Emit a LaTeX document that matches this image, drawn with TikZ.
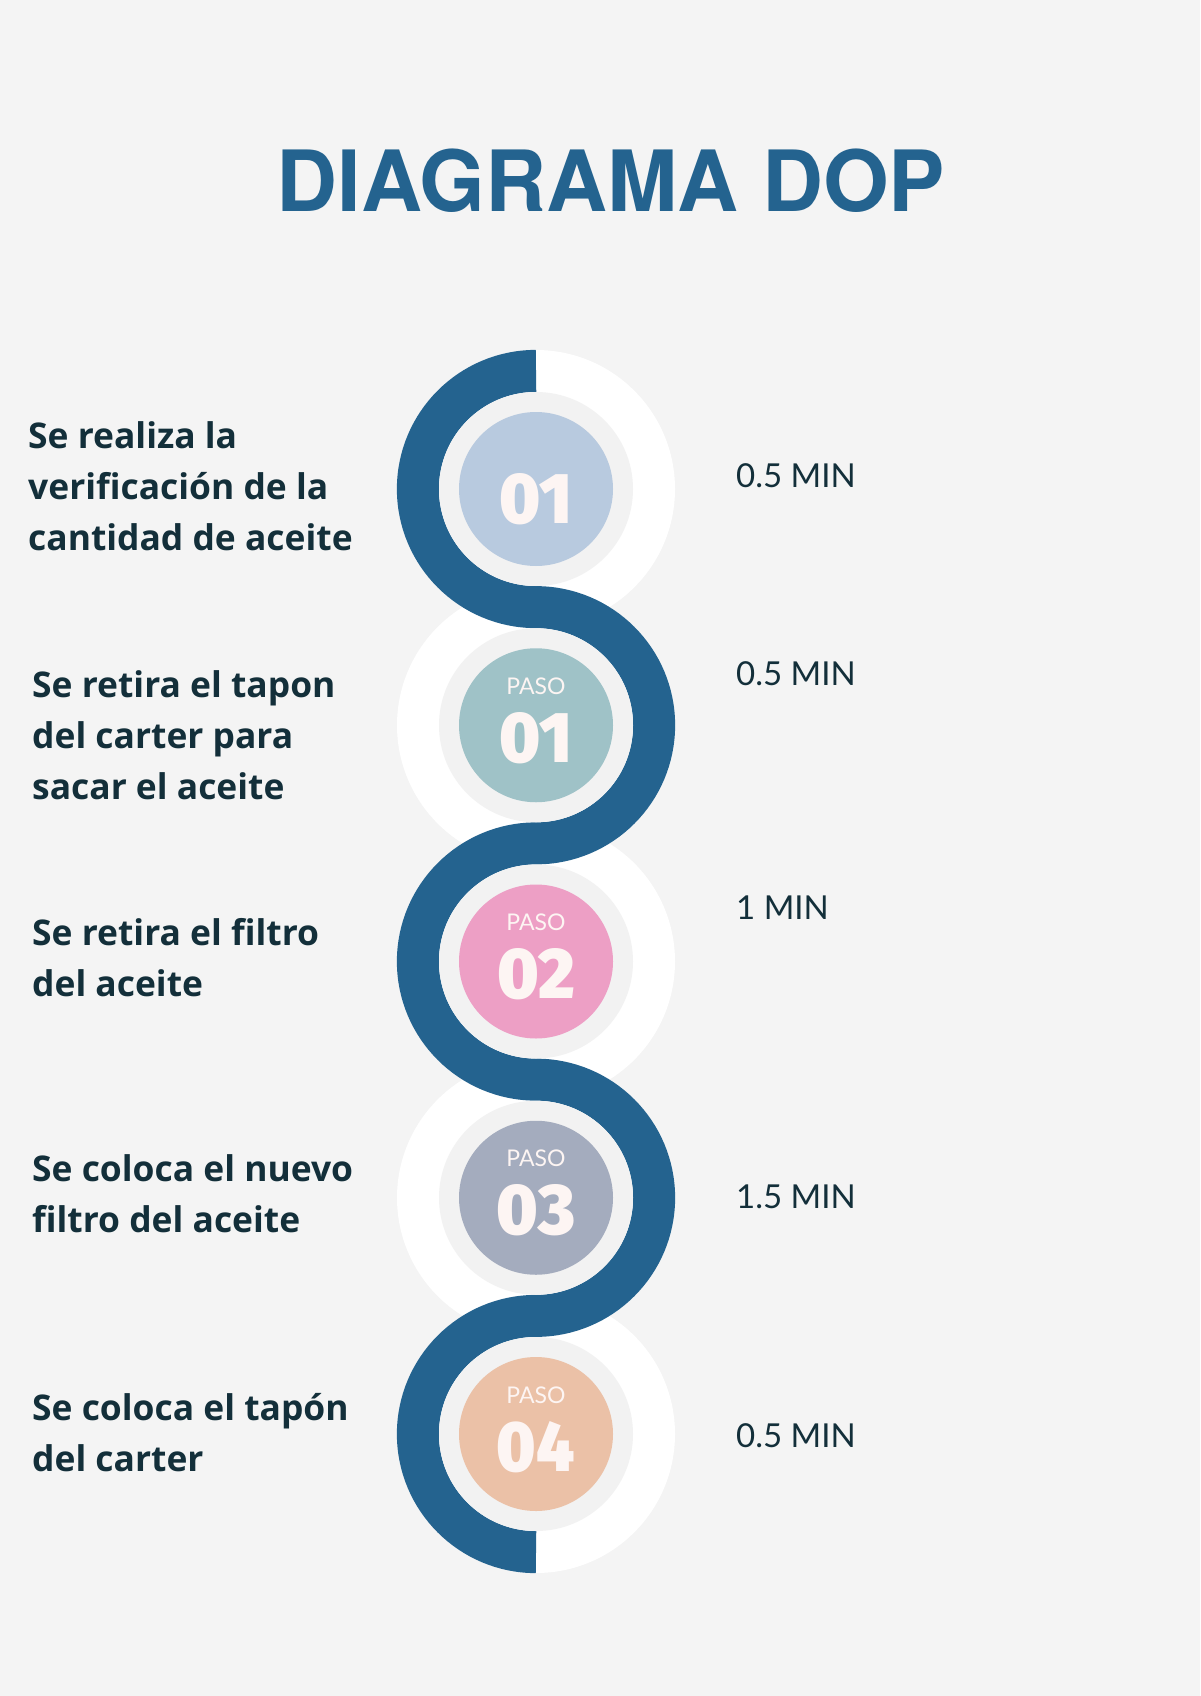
\documentclass[tikz,border=0pt]{standalone}
\usepackage{fontspec}
\setmainfont{Lato}
\newfontfamily\titlefont{TeX Gyre Heros}
\newfontfamily\stepfont{Open Sans}[UprightFont=* Bold]
\IfFontExistsTF{Fira Sans Black}{\newfontfamily\numfont{Fira Sans Black}}{%
 \IfFontExistsTF{Fira Sans Bold}{\newfontfamily\numfont{Fira Sans Bold}[FakeBold=2.5]}{\newfontfamily\numfont{Fira Sans}[FakeBold=4]}}
\definecolor{bg}{HTML}{F4F4F4}
\definecolor{ringgray}{HTML}{F2F2F2}
\definecolor{dopblue}{HTML}{24638F}
\definecolor{txt}{HTML}{132F3A}
\definecolor{numc}{HTML}{FDF5F3}
\definecolor{cA}{HTML}{B8CADF}
\definecolor{cB}{HTML}{9FC2C7}
\definecolor{cC}{HTML}{ED9FC5}
\definecolor{cD}{HTML}{A4ACBE}
\definecolor{cE}{HTML}{EBC1A7}
\tikzset{
  halo/.style={circle, fill=white, minimum size=278pt, inner sep=0pt},
  ring/.style={circle, fill=ringgray, minimum size=194pt, inner sep=0pt},
  disc/.style={circle, minimum size=154pt, inner sep=0pt},
  numtxt/.style={anchor=base, inner sep=0pt, text=numc},
  pasotxt/.style={anchor=base, inner sep=0pt, text=numc, font=\fontsize{23}{23}\selectfont},
  steptxt/.style={anchor=base west, inner sep=0pt, text=txt, font=\stepfont\fontsize{35.4}{51}\selectfont},
  timetxt/.style={anchor=base west, inner sep=0pt, text=txt, font=\fontsize{33}{33}\selectfont},
  snake/.style={draw=dopblue, line width=42pt, line cap=butt}
}
\newcommand{\bignum}[2]{\resizebox{#1pt}{50pt}{\numfont #2}}
\begin{document}
\begin{tikzpicture}[x=1pt,y=1pt]
\useasboundingbox[fill=bg] (0,0) rectangle (1200,-1696);
% title
\node[anchor=base, inner sep=0pt, text=dopblue] (title) at (611,-212) {\resizebox{668pt}{!}{\titlefont\bfseries DIAGRAMA DOP}};
% white halos
\node[halo] (h1) at (536,-489) {};
\node[halo] (h2) at (536,-725.25) {};
\node[halo] (h3) at (536,-961.5) {};
\node[halo] (h4) at (536,-1197.75) {};
\node[halo] (h5) at (536,-1434) {};
% snake
\coordinate (start) at (536,-370.875);
\draw[snake] (start)
  arc[start angle=90, end angle=270, radius=118.125]
  arc[start angle=90, end angle=-90, radius=118.125]
  arc[start angle=90, end angle=270, radius=118.125]
  arc[start angle=90, end angle=-90, radius=118.125]
  arc[start angle=90, end angle=270, radius=118.125];
% rings and discs
\foreach \n/\cy/\col in {1/-489/cA, 2/-725.25/cB, 3/-961.5/cC, 4/-1197.75/cD, 5/-1434/cE}{
  \node[ring] (r\n) at (536,\cy) {};
  \node[disc, fill=\col] (d\n) at (536,\cy) {};
}
% numbers
\node[numtxt] (n1) at ([yshift=-34pt]d1.center) {\bignum{73}{01}};
\node[pasotxt] (p2) at ([yshift=31pt]d2.center) {PASO};
\node[numtxt] (n2) at ([yshift=-37pt]d2.center) {\bignum{73}{01}};
\node[pasotxt] (p3) at ([yshift=31pt]d3.center) {PASO};
\node[numtxt] (n3) at ([yshift=-37pt]d3.center) {\bignum{78}{02}};
\node[pasotxt] (p4) at ([yshift=31pt]d4.center) {PASO};
\node[numtxt] (n4) at ([yshift=-37pt]d4.center) {\bignum{78}{03}};
\node[pasotxt] (p5) at ([yshift=31pt]d5.center) {PASO};
\node[numtxt] (n5) at ([yshift=-37pt]d5.center) {\bignum{78}{04}};
% step texts
\node[steptxt] (t1) at (28,-448) {\begin{tabular}[t]{@{}l@{}}Se realiza la\\verificación de la\\cantidad de aceite\end{tabular}};
\node[steptxt] (t2) at (32,-697) {\begin{tabular}[t]{@{}l@{}}Se retira el tapon\\del carter para\\sacar el aceite\end{tabular}};
\node[steptxt] (t3) at (32,-945) {\begin{tabular}[t]{@{}l@{}}Se retira el filtro\\del aceite\end{tabular}};
\node[steptxt] (t4) at (32,-1181) {\begin{tabular}[t]{@{}l@{}}Se coloca el nuevo\\filtro del aceite\end{tabular}};
\node[steptxt] (t5) at (32,-1420) {\begin{tabular}[t]{@{}l@{}}Se coloca el tapón\\del carter\end{tabular}};
% times
\node[timetxt] (m1) at (736,-487) {0.5 MIN};
\node[timetxt] (m2) at (736,-685) {0.5 MIN};
\node[timetxt] (m3) at (736,-919) {1 MIN};
\node[timetxt] (m4) at (736,-1208) {1.5 MIN};
\node[timetxt] (m5) at (736,-1447) {0.5 MIN};
\end{tikzpicture}
\end{document}
